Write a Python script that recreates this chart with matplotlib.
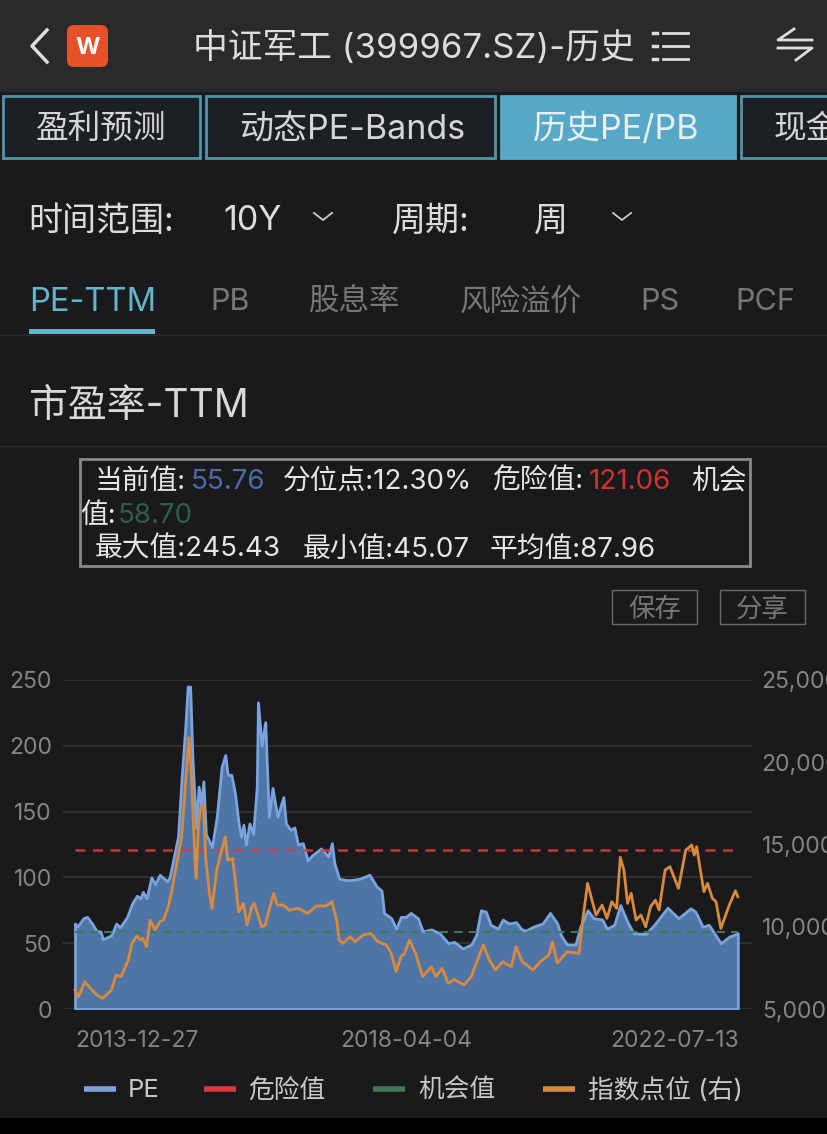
import matplotlib
matplotlib.use("Agg")
import matplotlib.pyplot as plt
from matplotlib.patches import FancyBboxPatch, Rectangle

plt.rcParams["font.family"] = ["Inter", "Noto Sans CJK SC", "DejaVu Sans"]

WIDTH = 828
HEIGHT = 1134

# weeks counted from the first point of the series
PE_WEEKS = [
    0, 2, 7, 10, 14, 18, 21, 23, 30, 34, 37, 43, 47, 51, 54, 56, 59, 63, 66, 70,
    76, 78, 81, 85, 88, 91, 93, 95, 97, 100, 102, 104, 106, 108, 113, 117, 121,
    124, 126, 129, 132, 135, 137, 139, 141, 144, 147, 150, 151, 154, 157, 160,
    163, 167, 172, 174, 178, 181, 184, 188, 192, 196, 203, 209, 212, 214, 218,
    224, 228, 235, 243, 249, 253, 255, 261, 265, 269, 273, 277, 283, 287, 294,
    301, 308, 313, 320, 327, 331, 335, 339, 343, 349, 353, 358, 364, 368, 372,
    378, 386, 392, 398, 401, 406, 413, 417, 423, 428, 435, 439, 445, 450, 456,
    461, 471, 478, 489, 498, 508, 512, 518, 523, 533, 540, 547,
]
PE_VALUES = [
    65, 62.6, 69, 70, 65, 59, 59, 53, 56, 65, 62, 70, 80, 86, 84, 89, 84, 100,
    95, 102, 97, 100, 113, 131, 176, 214, 245, 245, 189, 138, 169, 156, 173,
    133, 123, 146, 184, 193, 178, 178, 164, 141, 131, 140, 125, 141, 133, 169,
    233, 200, 218, 146, 168, 146, 161, 141, 136, 138, 125, 126, 113, 117, 122,
    116, 126, 111, 99, 98, 98, 99, 102, 93, 90, 73, 69, 61, 70, 70, 73, 69, 59,
    60.5, 57.5, 50, 51, 46, 49, 56, 75, 74, 64, 61, 68, 65, 66, 61, 59.5, 62.5,
    65, 73, 65, 56, 49, 49, 62.5, 75, 69, 68, 61, 64, 79, 66, 57.5, 57, 64, 77,
    69, 76.5, 74, 62.5, 64, 50, 55, 57.5,
]

INDEX_WEEKS = [
    0, 3, 8, 14, 18, 23, 30, 34, 38, 44, 47, 51, 54, 56, 59, 62, 66, 70, 73, 77,
    80, 84, 88, 91, 94, 96, 99, 100, 102, 104, 106, 108, 111, 113, 117, 121,
    124, 126, 130, 132, 135, 139, 142, 146, 148, 154, 157, 159, 164, 167, 172,
    177, 184, 192, 199, 207, 212, 216, 218, 221, 227, 231, 238, 244, 250, 257,
    261, 265, 269, 272, 276, 281, 287, 294, 298, 303, 308, 313, 321, 327, 330,
    337, 342, 347, 353, 360, 364, 369, 378, 384, 391, 394, 398, 406, 416, 419,
    423, 427, 430, 435, 439, 443, 447, 450, 453, 456, 459, 463, 467, 471, 475,
    479, 482, 487, 491, 498, 504, 509, 511, 513, 519, 522, 526, 529, 533, 540,
    545, 547,
]
INDEX_VALUES = [
    6155, 5750, 6660, 6155, 5850, 5650, 6155, 7070, 6965, 7980, 8990, 9440,
    9190, 9300, 8790, 10400, 9800, 10300, 10400, 11220, 12230, 13850, 15470,
    18500, 21500, 19300, 14050, 12940, 16280, 17300, 17400, 14050, 12030,
    11120, 13450, 14660, 15470, 14050, 14150, 13040, 10900, 11420, 10100,
    11220, 11420, 10000, 10100, 10700, 12030, 11320, 11320, 11000, 11120,
    10810, 11260, 11260, 11520, 10400, 9190, 8990, 9400, 9090, 9500, 9600,
    9090, 8890, 8380, 7270, 8180, 8380, 9190, 8380, 6970, 7570, 6970, 7470,
    6560, 6800, 6460, 6970, 7570, 8890, 7980, 7370, 7880, 7570, 8790, 7880,
    7370, 7880, 8280, 9090, 7780, 8480, 8380, 10410, 12640, 11520, 10710,
    11320, 10510, 11520, 11120, 14220, 13450, 11420, 12030, 10410, 10710,
    10000, 11220, 11620, 11020, 13450, 13650, 12330, 14660, 14970, 14360,
    14870, 12130, 12640, 11730, 11520, 9900, 11320, 12190, 11830,
]

DANGER = 121.06
CHANCE = 58.70
DATE_WEEKS = [51, 273, 495]
DATE_LABELS = ["2013-12-27", "2018-04-04", "2022-07-13"]
PE_TICKS = [0, 50, 100, 150, 200, 250]
INDEX_TICKS = [5000, 10000, 15000, 20000, 25000]

BG = "#1a1a1d"
GRID = "#303033"
TICK_GREY = "#858585"
PE_BLUE = "#7ba4de"
PE_FILL = "#4f74a6"
RED = "#e0383a"
GREEN = "#3f7a58"
ORANGE = "#d98a3a"

fig = plt.figure(figsize=(WIDTH / 100, HEIGHT / 100), dpi=100, facecolor=BG)

# page furniture drawn in pixel coordinates
ui = fig.add_axes([0, 0, 1, 1])
ui.set_xlim(0, WIDTH)
ui.set_ylim(HEIGHT, 0)
ui.axis("off")


def label(x, y, s, size, color="#d8d8d8", ha="left", **kw):
    ui.text(x, y, s, fontsize=size, color=color, ha=ha, va="center_baseline", **kw)


def box(x0, y0, x1, y1, edge, face="none", lw=1.5):
    ui.add_patch(Rectangle((x0, y0), x1 - x0, y1 - y0, edgecolor=edge,
                           facecolor=face, linewidth=lw))


# top bar and bottom band
box(0, 0, WIDTH, 92, "none", "#2a2a2d")
box(0, 1118, WIDTH, HEIGHT, "none", "#000000")

ui.plot([47, 32, 47], [30, 46, 62], color="#dddddd", lw=2.5)
ui.add_patch(FancyBboxPatch((70, 28), 35, 36, boxstyle="round,pad=3,rounding_size=7",
                            facecolor="#e8502a", edgecolor="none"))
label(87.5, 46, "W", 17, "#ffffff", "center", fontweight="bold")
label(193, 45, "中证军工 (399967.SZ)-历史", 25, "#dcdcdc")
for y in [33, 46, 59]:
    ui.plot([653, 657], [y, y], color="#dddddd", lw=2.5)
    ui.plot([663, 688], [y, y], color="#dddddd", lw=2)
ui.plot([778, 812, 796], [48, 48, 60], color="#dddddd", lw=2)
ui.plot([812, 778, 794], [40, 40, 29], color="#dddddd", lw=2)

# tabs
TAB_EDGE = "#4f97ab"
box(3, 96, 200, 158, TAB_EDGE, "#1c1f24", 2)
box(206, 96, 495, 158, TAB_EDGE, "#1c1f24", 2)
box(501, 96, 735, 158, "#57a8c6", "#57a8c6", 2)
box(741, 96, 840, 158, TAB_EDGE, "#1c1f24", 2)
label(36, 126, "盈利预测", 23.5, "#d5d5d5")
label(239, 126, "动态PE-Bands", 24.5, "#d5d5d5")
label(533, 126, "历史PE/PB", 24.5, "#e8eef2")
label(774, 126, "现金", 23.5, "#d5d5d5")

# range selectors
label(28, 218, "时间范围:", 24.5, "#dddddd")
label(223, 218, "10Y", 24.5, "#dddddd")
label(392, 218, "周期:", 24.5, "#dddddd")
label(534, 218, "周", 24.5, "#dddddd")
for x in [323, 622]:
    ui.plot([x - 9, x, x + 9], [213, 220, 213], color="#cccccc", lw=1.3)

# ratio tabs
label(29, 299, "PE-TTM", 23.5, "#63b5c9")
for x, s in [(210, "PB"), (309, "股息率"), (460, "风险溢价"), (640, "PS"), (735, "PCF")]:
    label(x, 299, s, 22, "#777777")
box(29, 329, 155, 334, "none", "#63b5c9")
ui.plot([0, WIDTH], [334.5, 334.5], color="#2b2b2e", lw=1)

label(29, 403, "市盈率-TTM", 28, "#d8d8d8")
ui.plot([0, WIDTH], [446, 446], color="#2b2b2e", lw=1)

# summary box
box(80, 459, 750, 566, "#8a8a8a", "none", 2)
WHITE = "#e6e6e6"
label(95, 479, "当前值:", 20, WHITE)
label(191, 479, "55.76", 20, "#4a6ea8")
label(283, 479, "分位点:12.30%", 20, WHITE)
label(492, 479, "危险值:", 20, WHITE)
label(589, 479, "121.06", 20, "#d8302a")
label(691, 479, "机会", 20, WHITE)
label(80, 513, "值:", 20, WHITE)
label(118, 513, "58.70", 20, "#2f5f46")
label(95, 547, "最大值:245.43", 20, WHITE)
label(303, 547, "最小值:45.07", 20, WHITE)
label(490, 547, "平均值:87.96", 20, WHITE)

# buttons
box(612, 590, 697, 624, "#6a6a6a", "none", 1)
box(720, 590, 805, 624, "#6a6a6a", "none", 1)
label(654.5, 607, "保存", 19, "#777777", "center")
label(762.5, 607, "分享", 19, "#777777", "center")

# legend
for x0, c, x_text, s in [
    (84, PE_BLUE, 128, "PE"),
    (204, RED, 248, "危险值"),
    (373, GREEN, 418, "机会值"),
    (543, ORANGE, 588, "指数点位 (右)"),
]:
    ui.plot([x0, x0 + 32], [1089, 1089], color=c, lw=4, solid_capstyle="butt")
    label(x_text, 1088, s, 18.5, "#c8c8c8")

# chart, axes box runs from x 63 to 752 and y 680 to 1009
ax = fig.add_axes([63 / WIDTH, 1 - 1009 / HEIGHT, 689 / WIDTH, 329 / HEIGHT])
ax.patch.set_alpha(0)
ax.set_xlim(-9.9, 558.7)
ax.set_ylim(0, 250)
for s in ax.spines.values():
    s.set_visible(False)
ax.set_yticks(PE_TICKS)
ax.set_xticks(DATE_WEEKS)
ax.set_xticklabels(DATE_LABELS)
ax.tick_params(axis="both", length=0, colors=TICK_GREY)
ax.tick_params(axis="y", labelsize=16.5, pad=8)
ax.tick_params(axis="x", labelsize=16.5, pad=15)
ax.grid(axis="y", color=GRID, lw=1.5)
ax.set_axisbelow(True)

ax.fill_between(PE_WEEKS, PE_VALUES, 0, facecolor=PE_FILL, edgecolor=PE_BLUE,
                linewidth=2, zorder=2)
ax.plot([PE_WEEKS[0], PE_WEEKS[-1]], [DANGER, DANGER], color=RED, lw=1.8,
        ls=(0, (4, 3)), zorder=3, alpha=0.9)
ax.plot([PE_WEEKS[0], PE_WEEKS[-1]], [CHANCE, CHANCE], color=GREEN, lw=1.5,
        ls=(0, (4, 3)), zorder=3)

ax2 = ax.twinx()
ax2.patch.set_alpha(0)
ax2.set_ylim(5000, 25000)
for s in ax2.spines.values():
    s.set_visible(False)
ax2.set_yticks(INDEX_TICKS)
ax2.set_yticklabels(["{:,}".format(t) for t in INDEX_TICKS])
ax2.tick_params(axis="y", length=0, colors=TICK_GREY, labelsize=16.5, pad=7)
ax2.plot(INDEX_WEEKS, INDEX_VALUES, color=ORANGE, lw=2, zorder=4)

fig.savefig("out.png", dpi=100, facecolor=BG)
